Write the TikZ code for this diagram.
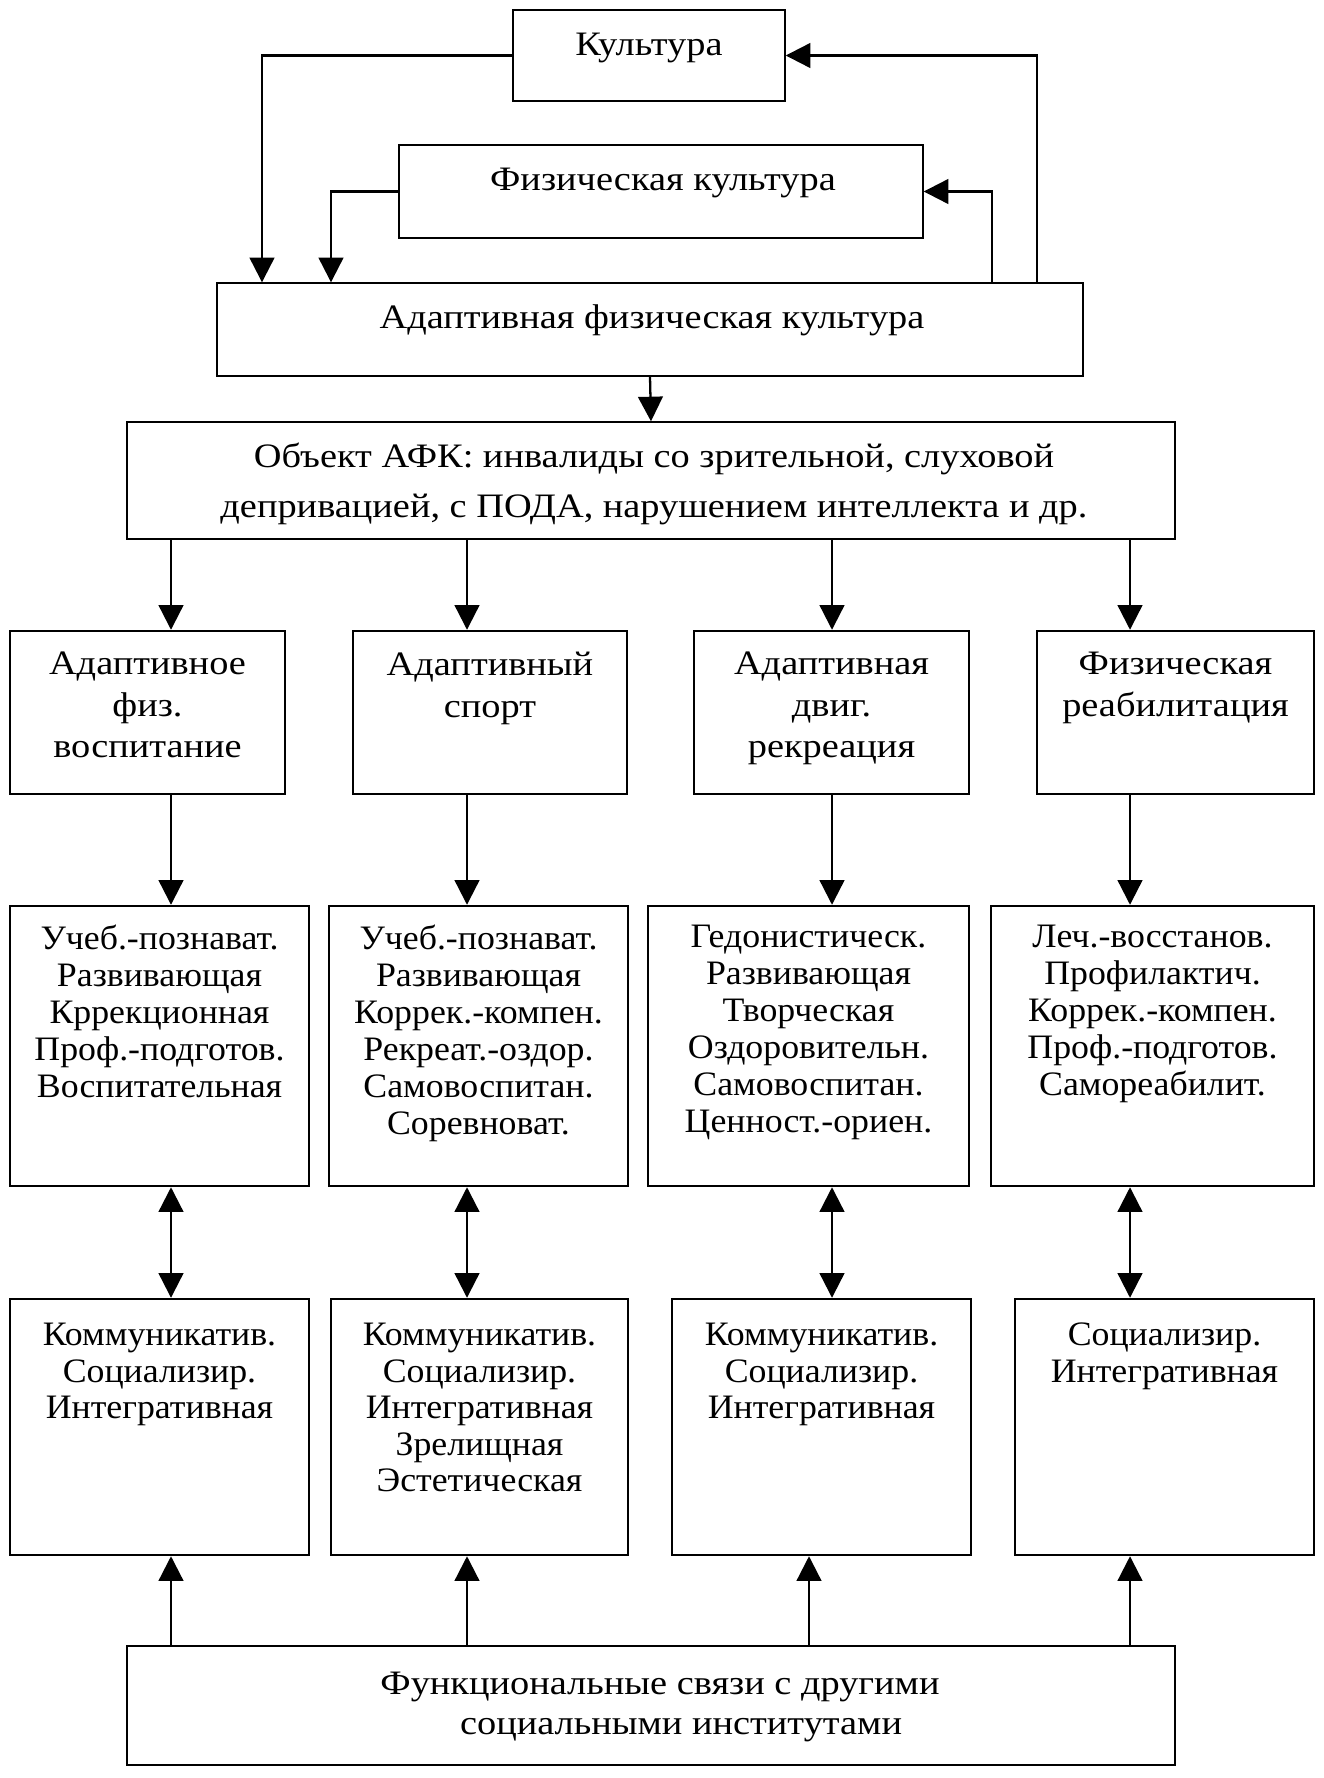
\documentclass[tikz,border=0pt]{standalone}
\usepackage{fontspec}
\setmainfont{Liberation Serif}
\newfontfamily\widefont[FakeStretch=1.12]{Liberation Serif}
\newfontfamily\midfont[FakeStretch=1.045]{Liberation Serif}
\usetikzlibrary{arrows.meta,positioning}

\newdimen\unitpx
\unitpx=0.02cm

\tikzset{
  box/.style={draw, line width=1.4pt, inner sep=0pt},
  thinbox/.style={draw, line width=0.8pt, inner sep=0pt},
  lbl/.style={align=center, inner sep=0pt, font=\midfont\fontsize{19.5}{21}\selectfont},
  lblwide/.style={lbl, font=\widefont\fontsize{19.5}{23}\selectfont},
  arr/.style={line width=1.3pt, -{Triangle[length=14pt,width=14pt]}},
  darr/.style={line width=1.3pt, {Triangle[length=14pt,width=14pt]}-{Triangle[length=14pt,width=14pt]}},
}

\begin{document}
\begin{tikzpicture}[x=0.02cm, y=-0.02cm]
    \useasboundingbox (0,0) rectangle (1324,1778);

    % top of the scheme
    \node[thinbox, minimum width=272\unitpx, minimum height=91\unitpx] (kult) at (649,55.5) {};
    \node[lblwide] (kultT) at (649,48) {Культура};
    \node[thinbox, minimum width=524\unitpx, minimum height=93\unitpx] (fk) at (661,191.5) {};
    \node[lblwide] (fkT) at (663,183) {Физическая культура};
    \node[thinbox, minimum width=866\unitpx, minimum height=93\unitpx] (afk) at (650,329.5) {};
    \node[lblwide] (afkT) at (652,320) {Адаптивная физическая культура};
    \node[thinbox, minimum width=1048\unitpx, minimum height=117\unitpx] (obj) at (651,480.5) {};
    \node[lblwide, font=\widefont\fontsize{19.5}{28.5}\selectfont] (objT) at (654,484) {Объект АФК: инвалиды со зрительной, слуховой\\депривацией, с ПОДА, нарушением интеллекта и др.};

    % columns of arrows
    \coordinate (c1) at (171,0);
    \coordinate (c2) at (467,0);
    \coordinate (c3) at (832,0);
    \coordinate (c4) at (1130,0);
    \coordinate (c5) at (809,0);
    \coordinate (lo) at (262,0);
    \coordinate (li) at (331,0);
    \coordinate (ri) at (992,0);
    \coordinate (ro) at (1037,0);

    % row 1: kinds
    \node[box, minimum width=275\unitpx, minimum height=163\unitpx] (r1a) at (147.5,712.5) {};
    \node[box, minimum width=274\unitpx, minimum height=163\unitpx] (r1b) at (490,712.5) {};
    \node[box, minimum width=275\unitpx, minimum height=163\unitpx] (r1c) at (831.5,712.5) {};
    \node[box, minimum width=277\unitpx, minimum height=163\unitpx] (r1d) at (1175.5,712.5) {};
    \node[lblwide, font=\widefont\fontsize{19.5}{23.6}\selectfont, below=22\unitpx of r1a.north] (r1aT) {Адаптивное\\физ.\\воспитание};
    \node[lblwide, font=\widefont\fontsize{19.5}{23.6}\selectfont, below=22\unitpx of r1b.north] (r1bT) {Адаптивный\\спорт};
    \node[lblwide, font=\widefont\fontsize{19.5}{23.6}\selectfont, below=22\unitpx of r1c.north] (r1cT) {Адаптивная\\двиг.\\рекреация};
    \node[lblwide, font=\widefont\fontsize{19.5}{23.6}\selectfont, below=22\unitpx of r1d.north] (r1dT) {Физическая\\реабилитация};

    % row 2: functions
    \node[box, minimum width=299\unitpx, minimum height=280\unitpx] (r2a) at (159.5,1046) {};
    \node[box, minimum width=299\unitpx, minimum height=280\unitpx] (r2b) at (478.5,1046) {};
    \node[box, minimum width=321\unitpx, minimum height=280\unitpx] (r2c) at (808.5,1046) {};
    \node[box, minimum width=323\unitpx, minimum height=280\unitpx] (r2d) at (1152.5,1046) {};
    \node[lbl, below=20\unitpx of r2a.north] (r2aT) {Учеб.-познават.\\Развивающая\\Кррекционная\\Проф.-подготов.\\Воспитательная};
    \node[lbl, below=20\unitpx of r2b.north] (r2bT) {Учеб.-познават.\\Развивающая\\Коррек.-компен.\\Рекреат.-оздор.\\Самовоспитан.\\Соревноват.};
    \node[lbl, below=20\unitpx of r2c.north] (r2cT) {Гедонистическ.\\Развивающая\\Творческая\\Оздоровительн.\\Самовоспитан.\\Ценност.-ориен.};
    \node[lbl, below=20\unitpx of r2d.north] (r2dT) {Леч.-восстанов.\\Профилактич.\\Коррек.-компен.\\Проф.-подготов.\\Самореабилит.};

    % row 3: social functions
    \node[box, minimum width=299\unitpx, minimum height=256\unitpx] (r3a) at (159.5,1427) {};
    \node[box, minimum width=297\unitpx, minimum height=256\unitpx] (r3b) at (479.5,1427) {};
    \node[box, minimum width=299\unitpx, minimum height=256\unitpx] (r3c) at (821.5,1427) {};
    \node[box, minimum width=299\unitpx, minimum height=256\unitpx] (r3d) at (1164.5,1427) {};
    \node[lbl, font=\midfont\fontsize{19.5}{20.8}\selectfont, below=25\unitpx of r3a.north] (r3aT) {Коммуникатив.\\Социализир.\\Интегративная};
    \node[lbl, font=\midfont\fontsize{19.5}{20.8}\selectfont, below=25\unitpx of r3b.north] (r3bT) {Коммуникатив.\\Социализир.\\Интегративная\\Зрелищная\\Эстетическая};
    \node[lbl, font=\midfont\fontsize{19.5}{20.8}\selectfont, below=25\unitpx of r3c.north] (r3cT) {Коммуникатив.\\Социализир.\\Интегративная};
    \node[lbl, font=\midfont\fontsize{19.5}{20.8}\selectfont, below=25\unitpx of r3d.north] (r3dT) {Социализир.\\Интегративная};

    % bottom
    \node[box, minimum width=1048\unitpx, minimum height=119\unitpx] (bot) at (651,1705.5) {};
    \node[lblwide] (botT) at (660,1707) {Функциональные связи с другими\\\hspace*{24pt}социальными институтами};

    % loops at the top
    \draw[arr] (kult.west) -| (afk.north -| lo);
    \draw[arr] (fk.west) -| (afk.north -| li);
    \draw[arr] (afk.north -| ro) |- (kult.east);
    \draw[arr] (afk.north -| ri) |- (fk.east);
    \draw[arr] (afk.south) -- (obj.north);

    \draw[arr] (obj.south -| c1) -- (r1a.north -| c1);
    \draw[arr] (obj.south -| c2) -- (r1b.north -| c2);
    \draw[arr] (obj.south -| c3) -- (r1c.north -| c3);
    \draw[arr] (obj.south -| c4) -- (r1d.north -| c4);

    \draw[arr] (r1a.south -| c1) -- (r2a.north -| c1);
    \draw[arr] (r1b.south -| c2) -- (r2b.north -| c2);
    \draw[arr] (r1c.south -| c3) -- (r2c.north -| c3);
    \draw[arr] (r1d.south -| c4) -- (r2d.north -| c4);

    \draw[darr] (r2a.south -| c1) -- (r3a.north -| c1);
    \draw[darr] (r2b.south -| c2) -- (r3b.north -| c2);
    \draw[darr] (r2c.south -| c3) -- (r3c.north -| c3);
    \draw[darr] (r2d.south -| c4) -- (r3d.north -| c4);

    \draw[arr] (bot.north -| c1) -- (r3a.south -| c1);
    \draw[arr] (bot.north -| c2) -- (r3b.south -| c2);
    \draw[arr] (bot.north -| c5) -- (r3c.south -| c5);
    \draw[arr] (bot.north -| c4) -- (r3d.south -| c4);
\end{tikzpicture}
\end{document}
